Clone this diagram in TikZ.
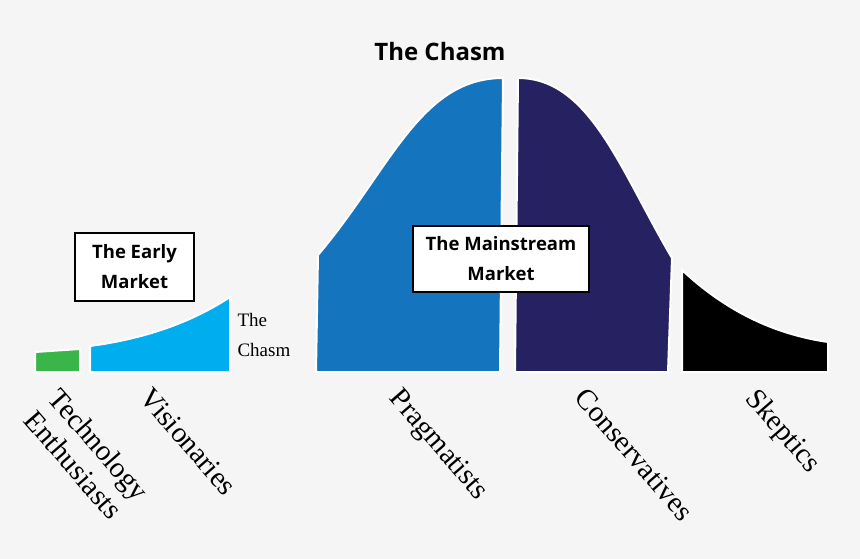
\documentclass[tikz,border=0pt]{standalone}
\usepackage{fontspec}
\setmainfont{Liberation Serif}
\newfontfamily\boxfont{Open Sans}
\begin{document}
\begin{tikzpicture}[x=1pt,y=-1pt,
  seg/.style={draw=white,line width=2pt},
  lab/.style={font=\fontsize{29}{27}\selectfont,anchor=north west,rotate=-49,inner sep=0pt},
  mbox/.style={draw=black,line width=2pt,fill=white,font=\boxfont\bfseries\fontsize{18.5}{30}\selectfont,align=center}]
\fill[white!96!black] (0,0) rectangle (860,559);
\useasboundingbox (0,0) rectangle (860,559);
\definecolor{cgreen}{HTML}{39B54A}
\definecolor{clight}{HTML}{00ADEE}
\definecolor{cmid}{HTML}{1474BD}
\definecolor{cnavy}{HTML}{262262}
\filldraw[seg,fill=cgreen] (35,372) -- (35,352) -- (80,349) -- (80,372) -- cycle;
\filldraw[seg,fill=clight] (90,372) -- (90,346) .. controls (150,338) and (195,320) .. (230,297) -- (230,372) -- cycle;
\filldraw[seg,fill=cmid] (316,372) -- (318,255) .. controls (390,170) and (420,78) .. (503,78) -- (500,372) -- cycle;
\filldraw[seg,fill=cnavy] (515,372) -- (518,78) .. controls (590,78) and (620,170) .. (672,258) -- (668,372) -- cycle;
\filldraw[seg,fill=black] (682,372) -- (682,270) .. controls (730,315) and (780,335) .. (828,342) -- (828,372) -- cycle;
\node (title) at (440,52) {\boxfont\bfseries\fontsize{24}{24}\selectfont The Chasm};
\node[font=\fontsize{19}{30}\selectfont,align=left,anchor=west] (small) at (234,335) {The\\Chasm};
\node[mbox,minimum width=119pt,minimum height=68pt] (early) at (134.5,267) {The Early\\Market};
\node[mbox,minimum width=176pt,minimum height=66pt] (main) at (501,259) {The Mainstream\\Market};
\node[lab] (t1) at (62,386) {Technology};
\node[lab] (t2) at (38,408) {Enthusiasts};
\node[lab] (v) at (153,386) {Visionaries};
\node[lab] (p) at (403,386) {Pragmatists};
\node[lab] (c) at (588,386) {Conservatives};
\node[lab] (s) at (760,386) {Skeptics};
\end{tikzpicture}
\end{document}
